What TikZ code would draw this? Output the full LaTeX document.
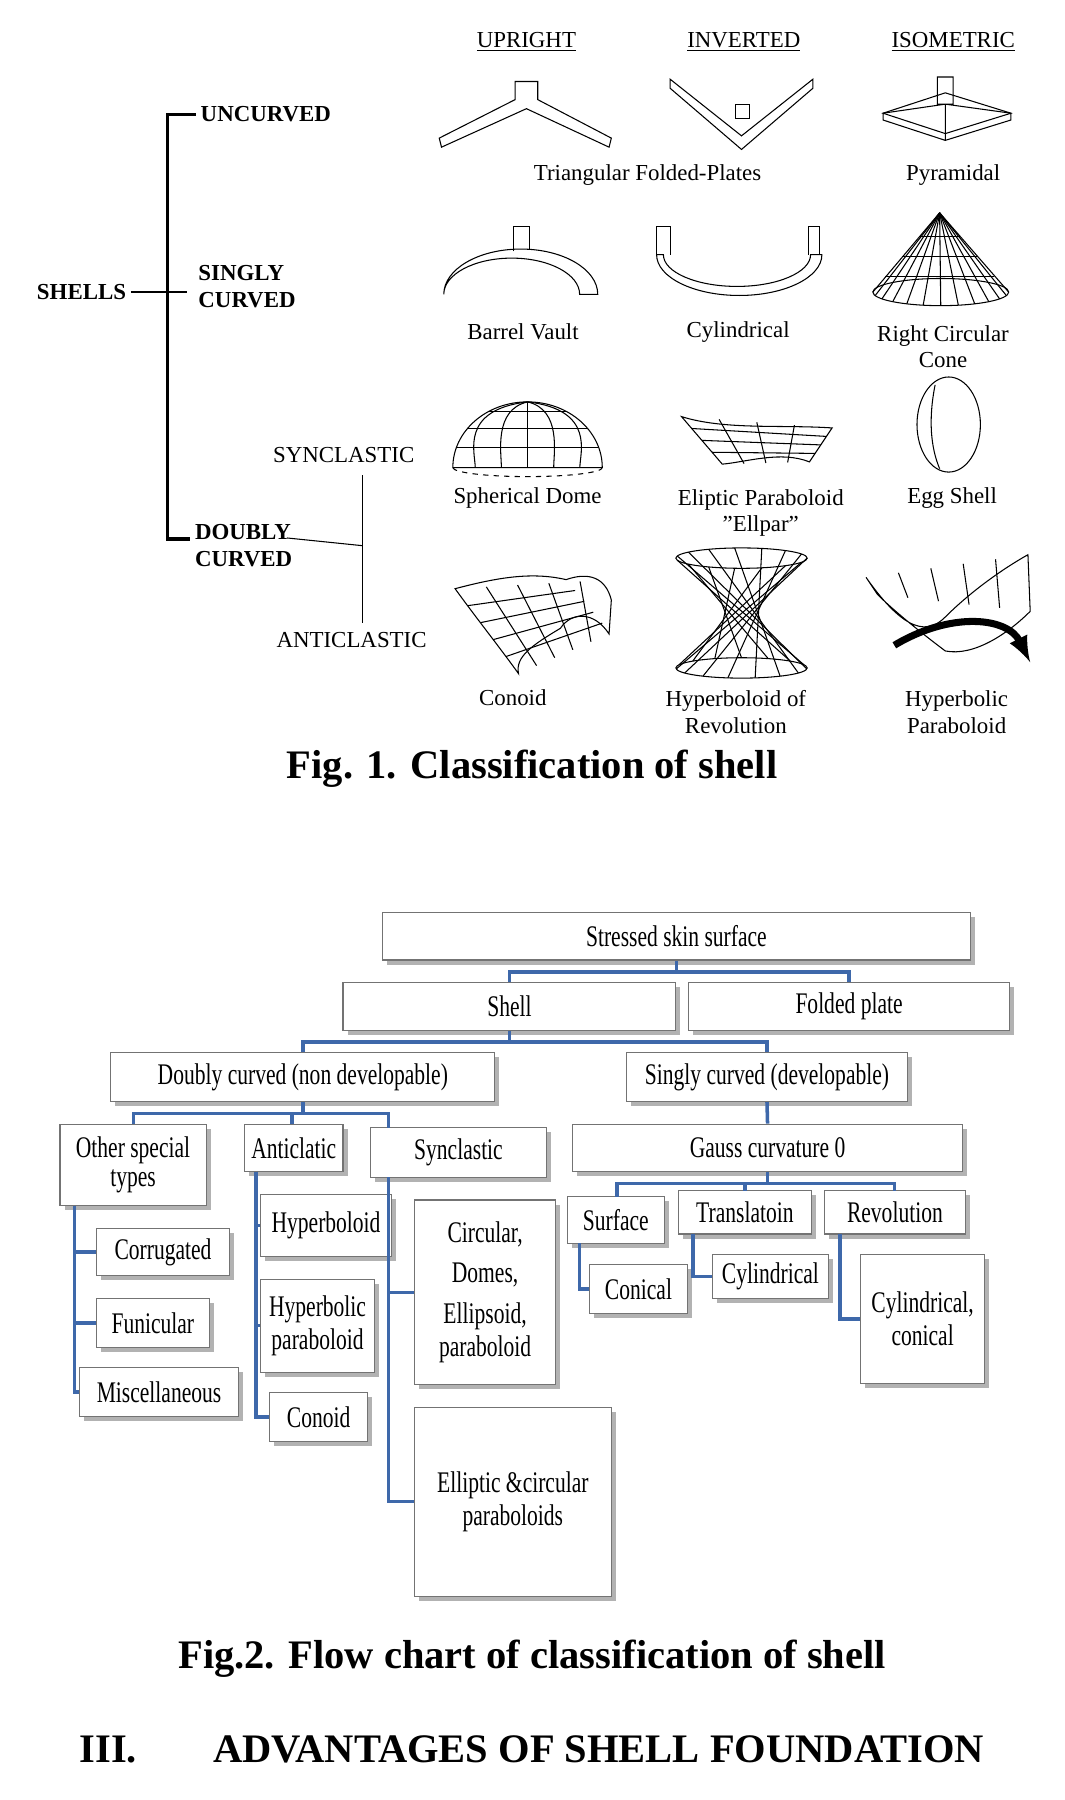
\documentclass[tikz,border=0pt]{standalone}
\usepackage{fontspec}
\setmainfont{Liberation Serif}
\usetikzlibrary{calc}
\newcommand{\cnd}[1]{\scalebox{0.72}[1]{#1}}
\begin{document}
\begin{tikzpicture}[x=0.0226cm,y=-0.0226cm,
 lab/.style={font=\fontsize{13}{15}\selectfont,align=center,inner sep=0},
 tree/.style={font=\bfseries\fontsize{13}{15}\selectfont,align=left,inner sep=0},
 art/.style={line width=0.6pt},
 box/.style={draw=black!55,fill=white,line width=0.6pt,inner sep=1pt,align=center,font=\fontsize{17}{21}\selectfont},
 bl/.style={draw={rgb,255:red,62;green,104;blue,170},line width=2pt},
 figcap/.style={font=\bfseries\fontsize{23}{27}\selectfont,inner sep=0}]
\useasboundingbox (0,0) rectangle (940,1590);
\newcommand{\bx}[6]{%
 \fill[black!30] (#2+4,#3+4) rectangle (#4+4,#5+4);
 \node[box,minimum width={(#4-#2)*0.0226cm},minimum height={(#5-#3)*0.0226cm}] (#1) at ({(#2+#4)/2},{(#3+#5)/2}) {#6};}
% ---------- Fig 1 ----------
\node[lab] (hu) at (465,37) {\underline{UPRIGHT}};
\node[lab] (hi) at (657,37) {\underline{INVERTED}};
\node[lab] (hs) at (842,37) {\underline{ISOMETRIC}};
\node[tree] (sh) at (72,258) {SHELLS};
\node[tree,anchor=west] (uc) at (177,101) {UNCURVED};
\node[tree,anchor=west] (sc) at (175,253) {SINGLY\\CURVED};
\node[tree,anchor=west] (dc) at (172,482) {DOUBLY\\CURVED};
\node[lab,anchor=west] (syn) at (241,402) {SYNCLASTIC};
\node[lab,anchor=west] (ant) at (244,565) {ANTICLASTIC};
\draw[line width=2pt] ($(uc.west)+(-4,0)$) -- (148,101) |- ($(dc.west)+(-4,-6)$);
\draw[line width=1.4pt] ($(sh.east)+(4,0)$) -- (165,258);
\coordinate (jn) at (320,482);
\draw[line width=0.6pt] ($(dc.north east)+(-5,12)$) -- (jn);
\draw[line width=0.6pt] (320,420) -- (320,550);
\node[lab] (l1) at (572,155) {Triangular Folded-Plates};
\node[lab] (l2) at (842,155) {Pyramidal};
\node[lab] (l3) at (462,293) {Barrel Vault};
\node[lab] (l4) at (652,293) {Cylindrical};
\node[lab] (l5) at (833,306) {Right Circular\\Cone};
\node[lab] (l6) at (466,440) {Spherical Dome};
\node[lab] (l7) at (672,453) {Eliptic Paraboloid\\"Ellpar"};
\node[lab] (l8) at (841,440) {Egg Shell};
\node[lab] (l9) at (453,616) {Conoid};
\node[lab] (l10) at (650,629) {Hyperboloid of\\Revolution};
\node[lab] (l11) at (845,629) {Hyperbolic\\Paraboloid};
\node[figcap] (c1) at (470,679) {Fig. 1. Classification of shell};
% illustrations
\draw[art] (388,122)--(455,88)--(455,72)--(475,72)--(475,88)--(540,122)--(538,130)--(465,96)--(390,130)--cycle;
\draw[art] (592,70)--(655,120)--(718,70)--(718,78)--(655,132)--(592,78)--cycle;
\draw[art] (650,105) rectangle (662,92);
\draw[art] (780,100)--(835,82)--(893,100)--(835,118)--cycle (780,100)--(780,106)--(835,124)--(893,106)--(893,100) (835,118)--(835,124);
\draw[art] (780,100)--(835,92)--(893,100) (835,92)--(835,118) (828,92) rectangle (842,68);
\draw[art] (392,260) arc (180:360:68 and 40) -- (512,260) arc (360:180:60 and 32) -- cycle;
\draw[art] (454,222) -- (454,200) -- (468,200) -- (468,220);
\draw[art] (580,225) arc (180:0:73 and 36) -- (716,225) arc (0:180:65 and 28) -- cycle;
\draw[art] (580,225)--(580,200)--(592,200)--(592,225) (714,225)--(714,200)--(724,200)--(724,225);
\draw[art] (831,258) ellipse (60 and 12);
\foreach \a in {180,195,...,360} \draw[art] (830,188) -- ({831+60*cos(\a)},{258-12*sin(\a)});
\foreach \t in {0.3,0.55,0.8} \draw[art] ({830-60*\t},{188+70*\t}) -- ({830+60*\t},{188+70*\t});
\draw[art] (400,413) arc (180:360:66 and 58) -- cycle;
\draw[art,dashed] (400,413) arc (180:0:66 and 8);
\foreach \s in {0.3,0.6,0.85} \draw[art] ({466-66*sqrt(1-\s*\s)},{413-58*\s}) -- ({466+66*sqrt(1-\s*\s)},{413-58*\s});
\foreach \f in {0.35,0.7} {\draw[art] (466,355) .. controls ({466-66*\f*1.3},362) and ({466-66*\f},400) .. ({466-66*\f},413);
 \draw[art] (466,355) .. controls ({466+66*\f*1.3},362) and ({466+66*\f},400) .. ({466+66*\f},413);}
\draw[art] (466,355)--(466,413);
\draw[art] (602,368) .. controls (640,380) and (690,375) .. (735,378) -- (715,408) .. controls (690,398) and (660,408) .. (638,410) -- cycle;
\foreach \t in {0.25,0.5,0.75} {\draw[art] ({602+36*\t},{368+42*\t}) -- ({735-20*\t},{378+30*\t});
 \draw[art] ({602+133*\t},{368+10*\t}) -- ({638+77*\t},{410-2*\t});}
\draw[art] (838,375) ellipse (28 and 42);
\draw[art] (826,340) .. controls (820,370) and (822,395) .. (830,414);
\draw[art] (402,520) .. controls (440,510) and (470,505) .. (500,512) .. controls (520,505) and (535,510) .. (540,530) -- (538,560) .. controls (525,540) and (505,540) .. (495,555) .. controls (470,570) and (455,580) .. (458,595) .. controls (440,570) and (420,545) .. cycle;
\foreach \t in {0.2,0.4,0.6,0.8} {\draw[art] ({402+138*\t},{520-8*\t}) -- ({458+80*\t},{595-35*\t});
 \draw[art] ({402+56*\t},{520+75*\t}) -- ({500+40*\t},{512+48*\t});}
\draw[art] (655,493) ellipse (58 and 9) (655,590) ellipse (58 and 9);
\foreach \i in {0,...,14} \draw[art] ({655+58*cos(\i*24)},{493+9*sin(\i*24)}) -- ({655+58*cos(\i*24+150)},{590+9*sin(\i*24+150)});
\draw[art] (765,510) .. controls (800,560) and (820,560) .. (835,545) .. controls (860,520) and (890,500) .. (908,490) -- (910,540) .. controls (890,560) and (860,580) .. (835,575) .. controls (815,560) and (790,540) .. (775,525) -- cycle;
\foreach \t in {0.2,0.4,0.6,0.8} \draw[art] ({765+143*\t},{510-20*\t}) -- ({775+135*\t},{525+15*\t});
\draw[line width=4pt,-latex] (790,570) .. controls (840,540) and (890,545) .. (910,585);
% ---------- Fig 2 ----------
\bx{ss}{338}{806}{857}{848}{\cnd{Stressed skin surface}}
\bx{shl}{303}{868}{597}{910}{\cnd{Shell}}
\bx{fp}{608}{868}{892}{910}{\cnd{Folded plate}}
\bx{dbl}{98}{930}{437}{973}{\cnd{Doubly curved (non developable)}}
\bx{sgl}{553}{930}{802}{973}{\cnd{Singly curved (developable)}}
\bx{ost}{53}{993}{182}{1065}{\cnd{\shortstack{Other special\\types}}}
\bx{anc}{216}{993}{303}{1035}{\cnd{Anticlatic}}
\bx{syc}{327}{996}{483}{1040}{\cnd{Synclastic}}
\bx{gau}{506}{993}{850}{1035}{\cnd{Gauss curvature 0}}
\bx{sur}{501}{1057}{587}{1098}{\cnd{Surface}}
\bx{tra}{599}{1052}{717}{1090}{\cnd{Translatoin}}
\bx{rev}{728}{1052}{853}{1090}{\cnd{Revolution}}
\bx{cor}{85}{1085}{203}{1127}{\cnd{Corrugated}}
\bx{fun}{85}{1147}{185}{1190}{\cnd{Funicular}}
\bx{mis}{70}{1208}{211}{1251}{\cnd{Miscellaneous}}
\bx{hyp}{230}{1055}{346}{1110}{\cnd{Hyperboloid}}
\bx{hpp}{230}{1130}{331}{1212}{\cnd{\shortstack{Hyperbolic\\paraboloid}}}
\bx{con}{238}{1230}{325}{1273}{\cnd{Conoid}}
\bx{cir}{366}{1060}{491}{1223}{\cnd{\shortstack{Circular,\\[6pt]Domes,\\[6pt]Ellipsoid,\\paraboloid}}}
\bx{ell}{366}{1243}{540}{1410}{\cnd{\shortstack{Elliptic \&circular\\paraboloids}}}
\bx{cnc}{521}{1117}{607}{1160}{\cnd{Conical}}
\bx{cyl}{629}{1108}{732}{1147}{\cnd{Cylindrical}}
\bx{cc}{760}{1108}{870}{1222}{\cnd{\shortstack{Cylindrical,\\conical}}}
\draw[bl] (ss.south) -- ++(0,10) -| (shl.north);
\draw[bl] ($(ss.south)+(0,10)$) -| (fp.north);
\draw[bl] (shl.south) -- ++(0,10) -| (dbl.north);
\draw[bl] ($(shl.south)+(0,10)$) -| (sgl.north);
\draw[bl] (dbl.south) -- ++(0,10) -| (118,993);
\draw[bl] ($(dbl.south)+(0,10)$) -| (343,996);
\draw[bl] (258,983) -- (258,993);
\draw[bl] (sgl.south) -- (gau.north);
\draw[bl] (gau.south) -- ++(0,10) -| (545,1057);
\draw[bl] ($(gau.south)+(0,10)$) -| (790,1052);
\draw[bl] (658,1045) -- (658,1052);
\draw[bl] (66,1065) |- (cor.west);
\draw[bl] (66,1065) |- (fun.west);
\draw[bl] (66,1065) |- (mis.west);
\draw[bl] (226,1035) |- (hyp.west);
\draw[bl] (226,1035) |- (hpp.west);
\draw[bl] (226,1035) |- (con.west);
\draw[bl] (343,1040) |- (cir.west);
\draw[bl] (343,1040) |- (ell.west);
\draw[bl] (512,1098) |- (cnc.west);
\draw[bl] (612,1090) |- (cyl.west);
\draw[bl] (742,1090) |- (cc.west);
\node[figcap] (c2) at (470,1465) {Fig.2. Flow chart of classification of shell};
\node[figcap,anchor=west] (s3) at (70,1545) {III.};
\node[figcap,anchor=west] (s3t) at (188,1545) {ADVANTAGES OF SHELL FOUNDATION};
\end{tikzpicture}
\end{document}
